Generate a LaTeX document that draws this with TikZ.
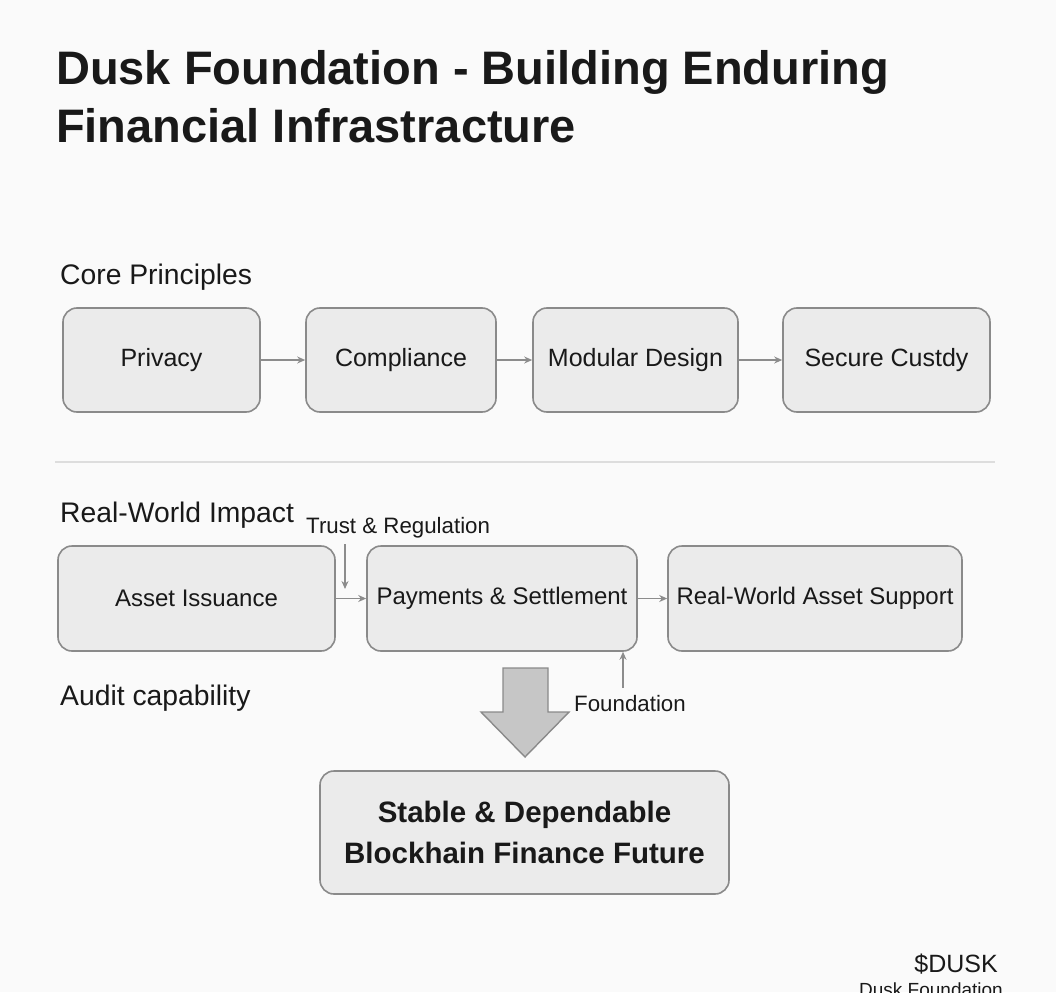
\documentclass[tikz,border=0pt]{standalone}
\usepackage{fontspec}
\setmainfont{Liberation Sans}
\usetikzlibrary{arrows.meta,shapes.arrows}
\definecolor{bg}{HTML}{FAFAFA}
\definecolor{boxfill}{HTML}{EBEBEB}
\definecolor{boxdraw}{HTML}{8A8A8A}
\definecolor{arrowc}{HTML}{8C8C8C}
\definecolor{sepc}{HTML}{DDDDDD}
\definecolor{bigarrow}{HTML}{C6C6C6}
\tikzset{
  pbox/.style={draw=boxdraw, fill=boxfill, line width=1.6pt, rounded corners=14pt, inner sep=0pt, font=\fontsize{25}{29}\selectfont, text=black!90},
  pbox2/.style={pbox, font=\fontsize{24}{28}\selectfont},
  flow/.style={draw=arrowc, line width=1.4pt, -{Stealth[length=8pt,width=7pt]}},
  lbl/.style={inner sep=0pt, anchor=base west, text=black!90},
  sec/.style={lbl, font=\fontsize{28.3}{32}\selectfont},
  small/.style={lbl, font=\fontsize{22.3}{26}\selectfont}
}
\begin{document}
\begin{tikzpicture}[x=1pt,y=-1pt]
\path[fill=bg] (0,0) rectangle (1056,992);
\useasboundingbox (0,0) rectangle (1056,992);
\begin{scope}
\clip (0,0) rectangle (1056,992);
% title
\node[lbl, font=\fontsize{47}{58}\selectfont\bfseries] (t1) at (56,85) {Dusk Foundation - Building Enduring};
\node[lbl, font=\fontsize{47}{58}\selectfont\bfseries] (t2) at (56,143) {Financial Infrastracture};
% section 1
\node[sec] (cp) at (60,284) {Core Principles};
\node[pbox, minimum width=197pt, minimum height=104pt] (privacy) at (161.5,360) {Privacy};
\node[pbox, minimum width=190pt, minimum height=104pt] (compl) at (401,360) {Compliance};
\node[pbox, minimum width=205pt, minimum height=104pt] (modular) at (635.5,360) {Modular Design};
\node[pbox, minimum width=207pt, minimum height=104pt] (custody) at (886.5,360) {Secure Custdy};
\draw[flow] (privacy) -- (compl);
\draw[flow] (compl) -- (modular);
\draw[flow] (modular) -- (custody);
% separator
\coordinate (s1) at (55,462);
\coordinate (s2) at (995,462);
\draw[sepc, line width=1.5pt] (s1) -- (s2);
% section 2
\node[sec] (rwi) at (60,522) {Real-World Impact};
\node[small] (trust) at (306,533) {Trust \& Regulation};
\node[pbox2, minimum width=277pt, minimum height=105pt] (asset) at (196.5,598.5) {Asset Issuance};
\node[pbox2, minimum width=270pt, minimum height=105pt] (pay) at (502,598.5) {Payments \& Settlement};
\node[pbox2, minimum width=294pt, minimum height=105pt] (rwa) at (815,598.5) {Real-World Asset Support};
\draw[flow] (asset) -- (pay);
\draw[flow] (pay) -- (rwa);
\coordinate (tr1) at (345,544);
\coordinate (tr2) at (345,589);
\draw[flow] (tr1) -- (tr2);
\node[sec] (audit) at (60,705) {Audit capability};
\node[small] (found) at (574,711) {Foundation};
\coordinate (f1) at (623,688);
\draw[flow] (f1) -- (pay.south -| f1);
% big arrow
\draw[draw=boxdraw, fill=bigarrow, line width=1.4pt, line join=miter]
  (503,668) -- (548,668) -- (548,712) -- (569,712) -- (525,757) -- (481,712) -- (503,712) -- cycle;
\node[pbox, minimum width=409pt, minimum height=123pt, align=center, font=\fontsize{29.5}{41}\selectfont\bfseries] (future) at (524.5,832.5) {Stable \& Dependable\\Blockhain Finance Future};
% footer
\node[inner sep=0pt, anchor=base east, font=\fontsize{25}{30}\selectfont, text=black!90] (dusk) at (998,972) {\$DUSK};
\node[inner sep=0pt, anchor=base east, font=\fontsize{19}{22}\selectfont, text=black!90] (df) at (1003,996) {Dusk Foundation};
\end{scope}
\end{tikzpicture}
\end{document}
